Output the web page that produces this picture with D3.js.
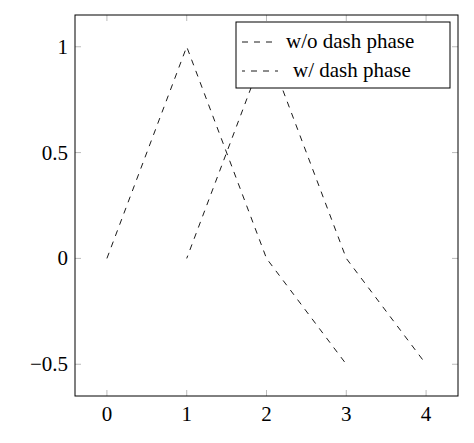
<!DOCTYPE html>
<html><head><meta charset="utf-8">
<script src="https://cdn.jsdelivr.net/npm/d3@7"></script>
<style>body{margin:0;background:#fff}text{font-family:"Liberation Serif",serif}</style>
</head><body><svg id="c" width="474" height="443"></svg>
<script>
const seriesA = [[0, 0], [1, 1], [2, 0], [3, -0.5]];
const seriesB = [[1, 0], [2, 1], [3, 0], [4, -0.5]];
const xTicks = [0, 1, 2, 3, 4];
const yTicks = [-0.5, 0, 0.5, 1];
const legendLabels = ["w/o dash phase", "w/ dash phase"];

const svg = d3.select("#c");
const x = d3.scaleLinear().domain([-0.4, 4.4]).range([75, 458]);
const y = d3.scaleLinear().domain([-0.65, 1.15]).range([396, 15]);
const fmt = d => d < 0 ? "\u2212" + Math.abs(d) : String(d);

// ticks (inward, both sides)
const tk = svg.append("g").attr("stroke", "#aaa").attr("stroke-width", 0.8);
xTicks.forEach(t => {
  tk.append("line").attr("x1", x(t)).attr("x2", x(t)).attr("y1", 396).attr("y2", 390);
  tk.append("line").attr("x1", x(t)).attr("x2", x(t)).attr("y1", 15).attr("y2", 21);
});
yTicks.forEach(t => {
  tk.append("line").attr("y1", y(t)).attr("y2", y(t)).attr("x1", 75).attr("x2", 81);
  tk.append("line").attr("y1", y(t)).attr("y2", y(t)).attr("x1", 458).attr("x2", 452);
});
svg.append("g").selectAll("text").data(xTicks).join("text")
  .attr("x", d => x(d)).attr("y", 421).attr("text-anchor", "middle")
  .attr("font-size", 21).text(fmt);
svg.append("g").selectAll("text").data(yTicks).join("text")
  .attr("x", 68).attr("y", d => y(d) + 7).attr("text-anchor", "end")
  .attr("font-size", 21).text(fmt);

const line = d3.line().x(d => x(d[0])).y(d => y(d[1]));
svg.append("path").attr("d", line(seriesA)).attr("fill", "none")
  .attr("stroke", "#000").attr("stroke-width", 0.9).attr("stroke-dasharray", "6,6");
svg.append("path").attr("d", line(seriesB)).attr("fill", "none")
  .attr("stroke", "#000").attr("stroke-width", 0.9).attr("stroke-dasharray", "6,6")
  .attr("stroke-dashoffset", 3);

svg.append("rect").attr("x", 75).attr("y", 15).attr("width", 383).attr("height", 381)
  .attr("fill", "none").attr("stroke", "#000").attr("stroke-width", 1);

// legend
const lg = svg.append("g");
lg.append("rect").attr("x", 236).attr("y", 22).attr("width", 214).attr("height", 66)
  .attr("fill", "#fff").attr("stroke", "#000").attr("stroke-width", 1);
legendLabels.forEach((l, i) => {
  const yy = 42 + i * 29;
  lg.append("line").attr("x1", 242).attr("x2", 278).attr("y1", yy).attr("y2", yy)
    .attr("stroke", "#000").attr("stroke-width", 0.9)
    .attr("stroke-dasharray", "6,6").attr("stroke-dashoffset", i ? 3 : 0);
  lg.append("text").attr("x", i ? 293 : 286).attr("y", yy + 6)
    .attr("font-size", 21).text(l);
});
</script></body></html>
